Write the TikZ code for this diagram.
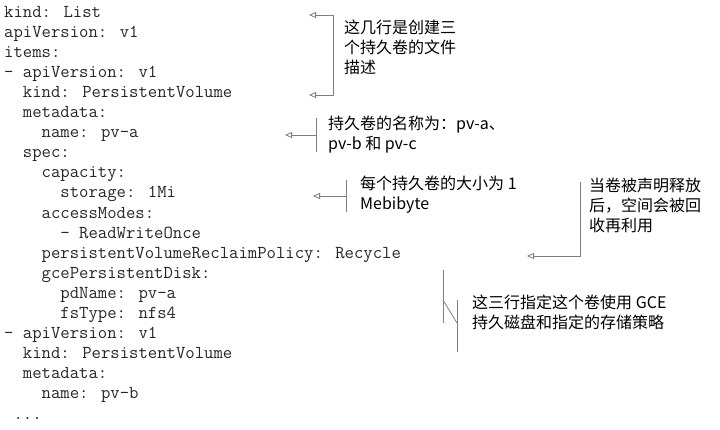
\documentclass[tikz,border=0pt]{standalone}
\usepackage{fontspec}
\newfontfamily\cjk{Noto Sans CJK SC}
\usetikzlibrary{arrows.meta}
\begin{document}
\begin{tikzpicture}[x=1pt,y=-1pt,
  code/.style={anchor=west,inner sep=0pt,font=\fontsize{18.2}{20}\ttfamily,text=black!85},
  note/.style={anchor=north west,inner sep=0pt,align=left,font=\fontsize{16}{20}\cjk},
  conn/.style={draw=gray,line width=0.8pt},
  tip/.style={-{Triangle[open,length=7pt,width=6pt]}}]
\useasboundingbox (0,0) rectangle (720,429);
\foreach \t [count=\i] in {kind: List,apiVersion: v1,items:,- apiVersion: v1,
  \ \ kind: PersistentVolume,\ \ metadata:,\ \ \ \ name: pv-a,\ \ spec:,
  \ \ \ \ capacity:,\ \ \ \ \ \ storage: 1Mi,\ \ \ \ accessModes:,
  \ \ \ \ \ \ - ReadWriteOnce,\ \ \ \ persistentVolumeReclaimPolicy: Recycle,
  \ \ \ \ gcePersistentDisk:,\ \ \ \ \ \ pdName: pv-a,\ \ \ \ \ \ fsType: nfs4,
  - apiVersion: v1,\ \ kind: PersistentVolume,\ \ metadata:,\ \ \ \ name: pv-b,{\ .{}.{}.}}
  \node[code] (l\i) at (4,{13+20.1*(\i-1)}) {\strut\t};
% note 1
\node[note] (n1) at (344,20) {这几行是创建三\\个持久卷的文件\\描述};
\coordinate (b1t) at (333,15); \coordinate (b1b) at (333,95);
\coordinate (a1t) at (309,15); \coordinate (a1b) at (309,95);
\draw[conn,tip] (b1b) -- (b1t) -- (a1t);
\draw[conn,tip] (b1t) -- (b1b) -- (a1b);
% note 2
\node[note] (n2) at (328,116) {持久卷的名称为：pv-a、\\pv-b 和 pv-c};
\coordinate (v2t) at (316,118); \coordinate (v2b) at (316,152); \coordinate (v2m) at (316,135);
\coordinate (a2) at (285,135);
\draw[conn] (v2t) -- (v2b);
\draw[conn,tip] (v2m) -- (a2);
% note 3
\node[note] (n3) at (360,176) {每个持久卷的大小为 1\\Mebibyte};
\coordinate (v3t) at (346,180); \coordinate (v3b) at (346,212); \coordinate (v3m) at (346,196);
\coordinate (a3) at (313,196);
\draw[conn] (v3t) -- (v3b);
\draw[conn,tip] (v3m) -- (a3);
% note 4
\node[note] (n4) at (589,178) {当卷被声明释放\\后，空间会被回\\收再利用};
\coordinate (v4t) at (580,182); \coordinate (v4c) at (580,256); \coordinate (a4) at (527,256);
\draw[conn,tip] (v4t) -- (v4c) -- (a4);
% note 5
\node[note] (n5) at (472,295) {这三行指定这个卷使用 GCE\\持久磁盘和指定的存储策略};
\coordinate (p1) at (443,270); \coordinate (p2) at (443,323); \coordinate (p3) at (443,300);
\coordinate (q1) at (457,300); \coordinate (q2) at (457,352); \coordinate (q3) at (457,323);
\draw[conn] (p1) -- (p2);
\draw[conn] (q1) -- (q2);
\draw[conn] (p3) -- (q3);
\end{tikzpicture}
\end{document}
